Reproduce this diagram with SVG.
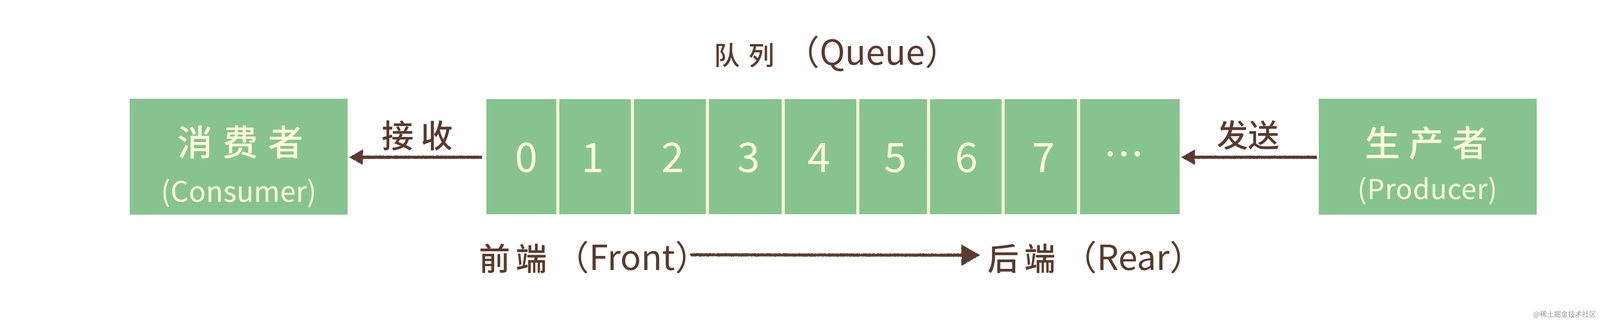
<svg xmlns="http://www.w3.org/2000/svg" width="4266" height="856" viewBox="0 0 4266 856">
  <style>
    .box { fill: #87C390; }
    .div { stroke: #F7F8D9; stroke-width: 8; }
    .cjk { font-family: 'Noto Sans CJK SC', sans-serif; }
    .lat { font-family: 'Noto Sans CJK SC', sans-serif; }
    .han { font-weight: 500; }
    .cream { fill: #FEFBD8; }
    .brown { fill: #5A3A2D; }
    .num { font-family: 'Noto Sans CJK SC', sans-serif; font-size: 104px; fill: #FEFBD8; text-anchor: middle; }
    .wire { stroke: #5A3A2D; stroke-width: 8; fill: none; }
  </style>
  <defs>
    <filter id="brush" x="-2%" y="-50%" width="104%" height="200%">
      <feTurbulence type="fractalNoise" baseFrequency="0.9 0.15" numOctaves="2" seed="3" result="n"/>
      <feDisplacementMap in="SourceGraphic" in2="n" scale="4" xChannelSelector="R" yChannelSelector="G"/>
    </filter>
    <marker id="headS" viewBox="0 0 35 40" refX="1" refY="20" markerWidth="35" markerHeight="40" markerUnits="userSpaceOnUse" orient="auto">
      <path d="M0,0 L35,20 L0,40 Z" fill="#5A3A2D"/>
    </marker>
    <marker id="headL" viewBox="0 0 48 55" refX="1" refY="27.5" markerWidth="48" markerHeight="55" markerUnits="userSpaceOnUse" orient="auto">
      <path d="M0,0 L48,27.5 L0,55 Z" fill="#5A3A2D"/>
    </marker>
  </defs>
  <rect width="4266" height="856" fill="#FFFFFF"/>

  <g id="title">
    <text class="cjk brown" y="166"><tspan class="han" x="1828" font-size="66" letter-spacing="22">队列</tspan><tspan x="2010" font-size="88">（Queue）</tspan></text>
  </g>

  <g id="consumer">
    <rect class="box" x="332" y="253" width="558" height="297"/>
    <text class="cjk cream han" x="454" y="398" font-size="90" letter-spacing="26">消费者</text>
    <text class="lat cream" x="412" y="517" font-size="72" textLength="398" lengthAdjust="spacing">(Consumer)</text>
  </g>

  <g id="queue">
    <rect class="box" x="1245" y="254" width="1775" height="295"/>
    <line class="div" x1="1428" y1="254" x2="1428" y2="549"/>
    <line class="div" x1="1619" y1="254" x2="1619" y2="549"/>
    <line class="div" x1="1811" y1="254" x2="1811" y2="549"/>
    <line class="div" x1="2005" y1="254" x2="2005" y2="549"/>
    <line class="div" x1="2196" y1="254" x2="2196" y2="549"/>
    <line class="div" x1="2377" y1="254" x2="2377" y2="549"/>
    <line class="div" x1="2568" y1="254" x2="2568" y2="549"/>
    <line class="div" x1="2761" y1="254" x2="2761" y2="549"/>
    <text class="num" x="1347" y="441">0</text>
    <text class="num" x="1517" y="441">1</text>
    <text class="num" x="1722" y="441">2</text>
    <text class="num" x="1916" y="441">3</text>
    <text class="num" x="2096" y="441">4</text>
    <text class="num" x="2292" y="441">5</text>
    <text class="num" x="2474" y="441">6</text>
    <text class="num" x="2671" y="441">7</text>
    <text class="num" x="2877" y="434" font-size="115">…</text>
  </g>

  <g id="producer">
    <rect class="box" x="3376" y="253" width="558" height="297"/>
    <text class="cjk cream han" x="3494" y="400" font-size="90" letter-spacing="22">生产者</text>
    <text class="lat cream" x="3475" y="510" font-size="70" textLength="358" lengthAdjust="spacing">(Producer)</text>
  </g>

  <g id="labels">
    <text class="cjk brown han" y="378"><tspan x="977" font-size="82" letter-spacing="18">接收</tspan></text>
    <text class="cjk brown han" y="376"><tspan x="3115" font-size="80" letter-spacing="0">发送</tspan></text>
    <text class="cjk brown" y="692"><tspan class="han" x="1226" font-size="80" letter-spacing="14">前端</tspan><tspan x="1420" font-size="88">（Front）</tspan></text>
    <text class="cjk brown" y="692"><tspan class="han" x="2528" font-size="80" letter-spacing="14">后端</tspan><tspan x="2720" font-size="88">（Rear）</tspan></text>
  </g>

  <g id="connectors" filter="url(#brush)">
    <path class="wire" d="M1234,403 L928,403" marker-end="url(#headS)"/>
    <path class="wire" d="M3371,403 L3058,403" marker-end="url(#headS)"/>
    <path class="wire" d="M1767,653 L2462,654" marker-end="url(#headL)"/>
  </g>

  <text x="4086" y="812" text-anchor="end" font-family="'Noto Sans CJK SC', sans-serif" font-size="18" fill="#9A9A9A">@稀土掘金技术社区</text>
</svg>
